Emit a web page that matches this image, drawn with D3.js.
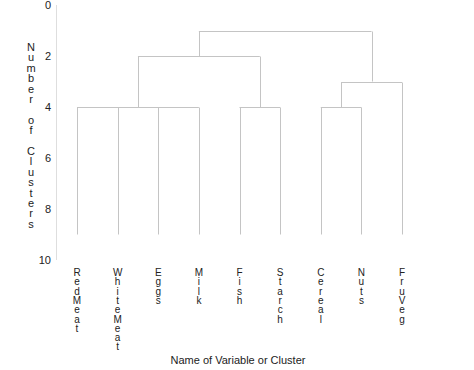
<!DOCTYPE html>
<html>
<head>
<meta charset="utf-8">
<script src="https://cdn.jsdelivr.net/npm/d3@7"></script>
<style>
  body { margin: 0; background: #fff; }
  svg { display: block; }
  .link { fill: none; stroke: #c4c4c4; stroke-width: 1; }
  .axis_line { stroke: #dedede; stroke-width: 1; }
  text { font-family: "Liberation Sans", Arial, sans-serif; fill: #222; }
</style>
</head>
<body>
<div id="chart"></div>
<script>
// leaves of the tree, left to right
var leaves = ["RedMeat", "WhiteMeat", "Eggs", "Milk", "Fish", "Starch", "Cereal", "Nuts", "FruVeg"]
var leafLevel = 9

// joins: name, children, number of clusters at which they join
var joinNames = ["M4", "FS", "CN", "CNF", "MFS", "ALL"]
var joinChildren = [
  ["RedMeat", "WhiteMeat", "Eggs", "Milk"],
  ["Fish", "Starch"],
  ["Cereal", "Nuts"],
  ["CN", "FruVeg"],
  ["M4", "FS"],
  ["MFS", "CNF"]
]
var joinLevels = [4, 4, 4, 3, 2, 1]

var yTicks = [0, 2, 4, 6, 8, 10]
var yTitle = "Number of Clusters"
var xTitle = "Name of Variable or Cluster"

var width = 474, height = 370

var svg = d3.select("#chart").append("svg")
  .attr("width", width)
  .attr("height", height)

var x = d3.scalePoint()
  .domain(leaves)
  .range([77, 402])

var y = d3.scaleLinear()
  .domain([0, 10])
  .range([5, 260])

// node positions
var nodes = {}
leaves.forEach(function (name) {
  nodes[name] = { x: x(name), level: leafLevel }
})
joinNames.forEach(function (name, i) {
  var kids = joinChildren[i].map(function (k) { return nodes[k] })
  nodes[name] = {
    x: d3.mean([kids[0].x, kids[kids.length - 1].x]),
    level: joinLevels[i],
    kids: kids
  }
})

// y axis
svg.append("line")
  .attr("class", "axis_line")
  .attr("x1", 56.5).attr("x2", 56.5)
  .attr("y1", y(0)).attr("y2", y(10))

svg.selectAll("text.ytick")
  .data(yTicks)
  .enter().append("text")
  .attr("class", "ytick")
  .attr("x", 51)
  .attr("y", function (d) { return y(d) })
  .attr("dy", "0.35em")
  .attr("text-anchor", "end")
  .style("font-size", "11px")
  .text(function (d) { return d })

// y title, letters stacked
svg.selectAll("text.ytitle")
  .data(yTitle.split(""))
  .enter().append("text")
  .attr("class", "ytitle")
  .attr("x", 31)
  .attr("y", function (d, i) { return 51 + i * 10.4 })
  .attr("text-anchor", "middle")
  .style("font-size", "11px")
  .text(function (d) { return d })

// tree links
var g = svg.append("g")
joinNames.forEach(function (name) {
  var node = nodes[name]
  var ly = Math.round(y(node.level)) + 0.5
  g.append("line")
    .attr("class", "link")
    .attr("x1", node.kids[0].x).attr("x2", node.kids[node.kids.length - 1].x)
    .attr("y1", ly).attr("y2", ly)
  node.kids.forEach(function (k) {
    var kx = Math.round(k.x) + 0.5
    g.append("line")
      .attr("class", "link")
      .attr("x1", kx).attr("x2", kx)
      .attr("y1", ly).attr("y2", y(k.level))
  })
})

// leaf labels, letters stacked
leaves.forEach(function (name) {
  svg.append("g")
    .selectAll("text")
    .data(name.split(""))
    .enter().append("text")
    .attr("x", x(name))
    .attr("y", function (d, i) { return 276 + i * 9.3 })
    .attr("text-anchor", "middle")
    .style("font-size", "10px")
    .text(function (d) { return d })
})

svg.append("text")
  .attr("x", 238)
  .attr("y", 364)
  .attr("text-anchor", "middle")
  .style("font-size", "11px")
  .text(xTitle)
</script>
</body>
</html>
